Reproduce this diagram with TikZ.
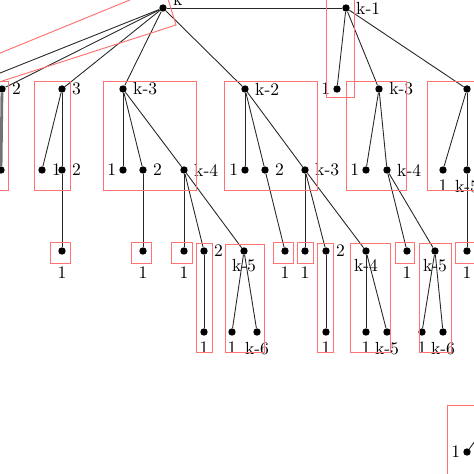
\documentclass[tikz,border=0pt]{standalone}
\usepackage{tikz}
\usetikzlibrary{positioning, calc}

\begin{document}
\begin{tikzpicture}[x=0.02cm, y=-0.02cm,
        vtx/.style={circle, fill, inner sep=0pt, minimum size=4.2pt},
        leaf/.style={vtx, label={[label distance=3pt]below:1}},
        lft/.style={label={[label distance=-2pt]left:#1}},
        grp/.style={draw=red!55, line width=0.55pt},
        every edge/.style={draw, black!85, line width=0.5pt}]
        \useasboundingbox (0,0) rectangle (474,474);
        \clip (0,0) rectangle (474,474);

        % top row
        \node[vtx, label={[yshift=5pt]right:k}] (k)  at (163,8) {};
        \node[vtx, label=right:k-1]             (k1) at (346,8) {};

        % row 1
        \node[vtx]                   (c1) at (-40,89) {};
        \node[vtx, label=right:2]    (c2) at (2,89)   {};
        \node[vtx, label=right:3]    (c3) at (62,89)  {};
        \node[vtx, label=right:k-3]  (a3) at (123,89) {};
        \node[vtx, label=right:k-2]  (a2) at (245,89) {};
        \node[vtx, lft=1]            (b1) at (337,89) {};
        \node[vtx, label=right:k-3]  (b3) at (379,89) {};
        \node[vtx]                   (b2) at (467,89) {};

        % row 2
        \node[vtx]                   (c2a) at (1,170)   {};
        \node[vtx, label=right:1]    (c3a) at (42,170)  {};
        \node[vtx, label=right:2]    (c3b) at (62,170)  {};
        \node[vtx, lft=1]            (a3a) at (123,170) {};
        \node[vtx, label=right:2]    (a3b) at (143,170) {};
        \node[vtx, label=right:k-4]  (a3c) at (184,170) {};
        \node[vtx, lft=1]            (a2a) at (245,170) {};
        \node[vtx, label=right:2]    (a2b) at (265,170) {};
        \node[vtx, label=right:k-3]  (a2c) at (305,170) {};
        \node[vtx, lft=1]            (b3a) at (366,170) {};
        \node[vtx, label=right:k-4]  (b3b) at (387,170) {};
        \node[vtx, label=below:1]    (b2a) at (443,170) {};
        \node[vtx, label=below:k-5]  (b2b) at (467,170) {};

        % row 3
        \node[leaf]                  (c3b1) at (62,251)  {};
        \node[leaf]                  (a3b1) at (143,251) {};
        \node[leaf]                  (a3c1) at (184,251) {};
        \node[vtx, label=right:2]    (a3c2) at (204,251) {};
        \node[vtx, label={[label distance=-1pt]below:k-5}] (a3c5) at (244,251) {};
        \node[leaf]                  (a2b1) at (285,251) {};
        \node[leaf]                  (a2c1) at (305,251) {};
        \node[vtx, label=right:2]    (a2c2) at (326,251) {};
        \node[vtx, label={[label distance=-1pt]below:k-4}] (a2c4) at (366,251) {};
        \node[leaf]                  (b3b1) at (407,251) {};
        \node[vtx, label={[label distance=-1pt]below:k-5}] (b3b5) at (435,251) {};
        \node[leaf]                  (b2b1) at (467,251) {};

        % row 4
        \node[vtx, label=below:1]    (a3c2a) at (204,332) {};
        \node[vtx, label=below:1]    (a3c5a) at (232,332) {};
        \node[vtx, label=below:k-6]  (a3c5b) at (257,332) {};
        \node[vtx, label=below:1]    (a2c2a) at (326,332) {};
        \node[vtx, label=below:1]    (a2c4a) at (366,332) {};
        \node[vtx, label=below:k-5]  (a2c4b) at (387,332) {};
        \node[vtx, label=below:1]    (b3b5a) at (422,332) {};
        \node[vtx, label=below:k-6]  (b3b5b) at (443,332) {};

        % bottom corner
        \node[vtx, lft=1] (z1) at (467,452) {};
        \coordinate (zt) at (497,411);

        \path
          (k) edge (c1)  (k) edge (c2)  (k) edge (c3)
          (k) edge (a3)  (k) edge (a2)  (k) edge (k1)

          (c3) edge (c3a)  (c3) edge (c3b)  (c3b) edge (c3b1)

          (a3) edge (a3a)  (a3) edge (a3b)  (a3) edge (a3c)
          (a3b) edge (a3b1)
          (a3c) edge (a3c1)  (a3c) edge (a3c2)  (a3c) edge (a3c5)
          (a3c2) edge (a3c2a)
          (a3c5) edge (a3c5a)  (a3c5) edge (a3c5b)

          (a2) edge (a2a)  (a2) edge (a2b)  (a2) edge (a2c)
          (a2b) edge (a2b1)
          (a2c) edge (a2c1)  (a2c) edge (a2c2)  (a2c) edge (a2c4)
          (a2c2) edge (a2c2a)
          (a2c4) edge (a2c4a)  (a2c4) edge (a2c4b)

          (k1) edge (b1)  (k1) edge (b3)  (k1) edge (b2)
          (b3) edge (b3a)  (b3) edge (b3b)
          (b3b) edge (b3b1)  (b3b) edge (b3b5)
          (b3b5) edge (b3b5a)  (b3b5) edge (b3b5b)

          (b2) edge (b2a)  (b2) edge (b2b)  (b2b) edge (b2b1)

          (z1) edge (zt);
        \draw[black!55, line width=1.6pt] (c2) -- (c2a);

        % groups
        \draw[grp] (-100,94) -- (164,-14) -- (176,25) -- (-100,114) -- cycle;
        \draw[grp] ($(k1)+(-20,-20)$) rectangle ($(k1)+(8,89)$);
        \draw[grp] ($(c2)+(-10,-8)$)  rectangle ($(c2a)+(7,20)$);
        \draw[grp] ($(c3)+(-28,-8)$)  rectangle ($(c3b)+(8,20)$);
        \draw[grp] ($(a3)+(-20,-8)$)  rectangle ($(a3c)+(12,20)$);
        \draw[grp] ($(a2)+(-21,-8)$)  rectangle ($(a2c)+(12,20)$);
        \draw[grp] ($(b3)+(-33,-8)$)  rectangle ($(b3b)+(19,20)$);
        \draw[grp] ($(b2)+(-40,-8)$)  rectangle ($(b2b)+(20,20)$);

        \draw[grp] ($(c3b1)+(-12,-9)$) rectangle ($(c3b1)+(8,12)$);
        \draw[grp] ($(a3b1)+(-12,-9)$) rectangle ($(a3b1)+(8,12)$);
        \draw[grp] ($(a3c1)+(-13,-9)$) rectangle ($(a3c1)+(8,12)$);
        \draw[grp] ($(a2b1)+(-12,-9)$) rectangle ($(a2b1)+(8,12)$);
        \draw[grp] ($(a2c1)+(-8,-9)$)  rectangle ($(a2c1)+(8,12)$);
        \draw[grp] ($(b3b1)+(-12,-9)$) rectangle ($(b3b1)+(7,12)$);
        \draw[grp] ($(b2b1)+(-12,-9)$) rectangle ($(b2b1)+(20,12)$);

        \draw[grp] ($(a3c2)+(-8,-8)$)  rectangle ($(a3c2a)+(8,20)$);
        \draw[grp] ($(a3c5)+(-19,-7)$) rectangle ($(a3c5b)+(7,20)$);
        \draw[grp] ($(a2c2)+(-9,-8)$)  rectangle ($(a2c2a)+(7,20)$);
        \draw[grp] ($(a2c4)+(-16,-8)$) rectangle ($(a2c4b)+(3,20)$);
        \draw[grp] ($(b3b5)+(-16,-8)$) rectangle ($(b3b5b)+(8,20)$);
        \draw[grp] ($(z1)+(-20,-47)$)  rectangle ($(z1)+(30,40)$);
\end{tikzpicture}
\end{document}
